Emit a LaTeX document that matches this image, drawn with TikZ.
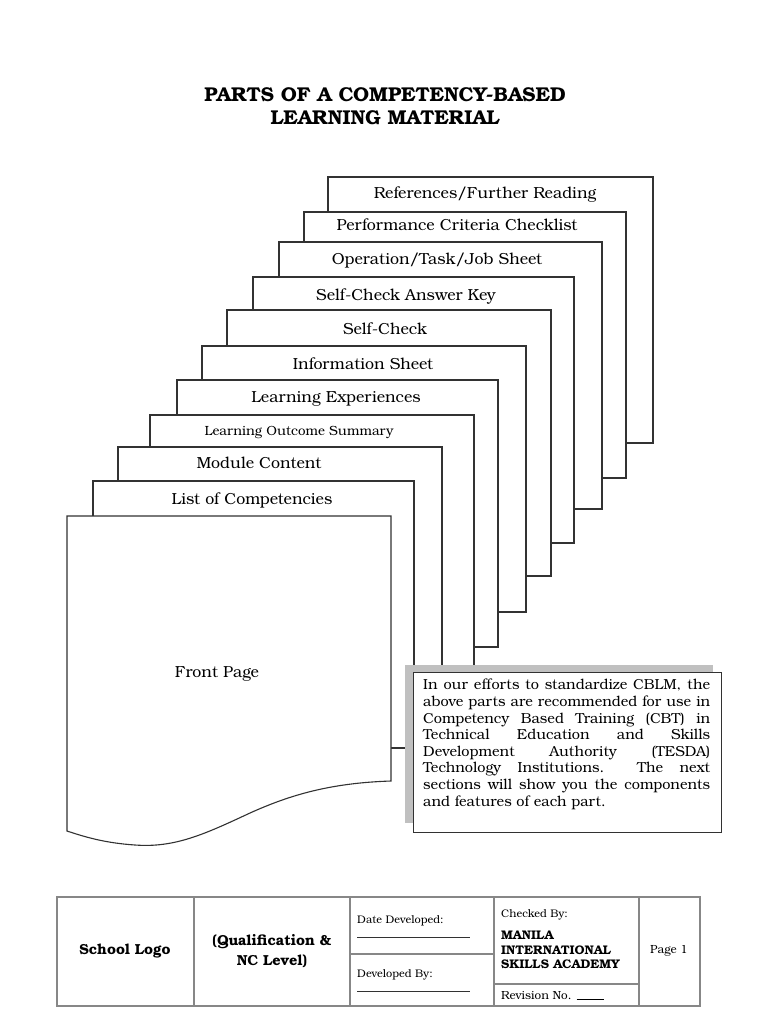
\documentclass[tikz,border=0pt]{standalone}
\usepackage{fontspec}
\setmainfont{texgyrebonum}[Extension=.otf, UprightFont=*-regular, BoldFont=*-bold,
  ItalicFont=*-italic, BoldItalicFont=*-bolditalic]
\usepackage{tikz}
\usetikzlibrary{positioning}
\definecolor{cblmline}{RGB}{50,50,50}
\definecolor{cblmshadow}{RGB}{192,192,192}
\definecolor{cblmgrid}{RGB}{135,135,135}

\begin{document}
\begin{tikzpicture}[x=1pt, y=-1pt,
  sheet/.style={draw=cblmline, fill=white, line width=1.1pt},
  sheetlabel/.style={font=\fontsize{16}{18}\selectfont, inner sep=0pt, anchor=base},
  smalllabel/.style={font=\fontsize{13.3}{15}\selectfont, inner sep=0pt, anchor=base},
  notebox/.style={draw=cblmline, fill=white, line width=1pt, anchor=north west,
               minimum width=308pt, minimum height=160pt, inner sep=0pt},
  notetext/.style={font=\fontsize{14.5}{16.6}\selectfont, text width=287pt,
               align=justify, inner sep=0pt, anchor=north west},
  gridline/.style={draw=cblmgrid, line width=1.2pt},
  cellbold/.style={font=\fontsize{14.5}{20}\selectfont\bfseries, inner sep=0pt, align=center},
  cellsmall/.style={font=\fontsize{11}{12}\selectfont, inner sep=0pt, anchor=base west}
]
  \useasboundingbox[fill=white] (0,0) rectangle (768,1024);

  %% Title
  \node[font=\fontsize{20}{23}\selectfont\bfseries, align=center] (title) at (385,106)
    {PARTS OF A COMPETENCY-BASED\\LEARNING MATERIAL};

  %% Stacked pages, back to front
  \draw[sheet] (328,177) rectangle (653,443);
  \node[sheetlabel] (refL)  at (485,199) {References/Further Reading};
  \draw[sheet] (304,212) rectangle (626,478);
  \node[sheetlabel] (perfL) at (457,231) {Performance Criteria Checklist};
  \draw[sheet] (279,242) rectangle (602,509);
  \node[sheetlabel] (opL)   at (437,264) {Operation/Task/Job Sheet};
  \draw[sheet] (253,277) rectangle (574,543);
  \node[sheetlabel] (akL)   at (406,300) {Self-Check Answer Key};
  \draw[sheet] (227,310) rectangle (551,576);
  \node[sheetlabel] (scL)   at (385,334) {Self-Check};
  \draw[sheet] (202,346) rectangle (526,612);
  \node[sheetlabel] (infoL) at (363,369) {Information Sheet};
  \draw[sheet] (177,380) rectangle (498,647);
  \node[sheetlabel] (leL)   at (336,402) {Learning Experiences};
  \draw[sheet] (150,415) rectangle (474,690);
  \node[smalllabel] (losL)  at (299,435) {Learning Outcome Summary};
  \draw[sheet] (118,447) rectangle (442,720);
  \node[sheetlabel] (mcL)   at (259,468) {Module Content};
  \draw[sheet] (93,481) rectangle (414,748);
  \node[sheetlabel] (locL)  at (252,504) {List of Competencies};

  %% Front page with curled bottom
  \draw[sheet] (67,516) -- (391,516) -- (391,781)
    .. controls (330,783) and (290,795) .. (250,813)
    .. controls (205,834) and (175,848) .. (135,845)
    .. controls (105,843) and (85,837) .. (67,831) -- cycle;
  \node[sheetlabel] (fpL) at (217,677) {Front Page};

  %% Note with shadow
  \fill[cblmshadow] (405,665) rectangle (713,823);
  \node[notebox] (note) at (413,672) {};
  \node[notetext] (noteT) at ([xshift=10pt, yshift=-7pt]note.north west)
    {In our efforts to standardize CBLM, the\linebreak
     above parts are recommended for use in\linebreak
     Competency Based Training (CBT) in\linebreak
     Technical Education and Skills\linebreak
     Development Authority (TESDA)\linebreak
     Technology Institutions.\ \ The next\linebreak
     sections will show you the components\linebreak
     and features of each part.};

  %% Footer table
  \draw[gridline] (57,897) rectangle (700,1006);
  \draw[gridline] (194,897) -- (194,1006);
  \draw[gridline] (350,897) -- (350,1006);
  \draw[gridline] (494,897) -- (494,1006);
  \draw[gridline] (639,897) -- (639,1006);
  \draw[gridline] (350,954) -- (494,954);
  \draw[gridline] (494,984) -- (639,984);

  \node[cellbold] (logo) at (125,951) {School Logo};
  \node[cellbold] (qual) at (272,951) {(Qualification \&\\NC Level)};
  \node[cellsmall] (dateD) at (357,923) {Date Developed:};
  \draw[cblmline, line width=0.8pt] (357,937) -- (470,937);
  \node[cellsmall] (devB) at (357,977) {Developed By:};
  \draw[cblmline, line width=0.8pt] (357,991) -- (470,991);
  \node[cellsmall] (chkB) at (501,917) {Checked By:};
  \node[cellbold, font=\fontsize{12.5}{14.5}\selectfont\bfseries, align=left,
        anchor=north west] (school) at (501,931)
    {MANILA\\INTERNATIONAL\\SKILLS ACADEMY};
  \node[cellsmall, font=\fontsize{11.7}{12}\selectfont] (revN) at (501,999)
    {Revision No. \rule[-1pt]{27pt}{0.7pt}};
  \node[font=\fontsize{11.8}{12}\selectfont, inner sep=0pt] (pageN) at (669,951) {Page 1};
\end{tikzpicture}
\end{document}
